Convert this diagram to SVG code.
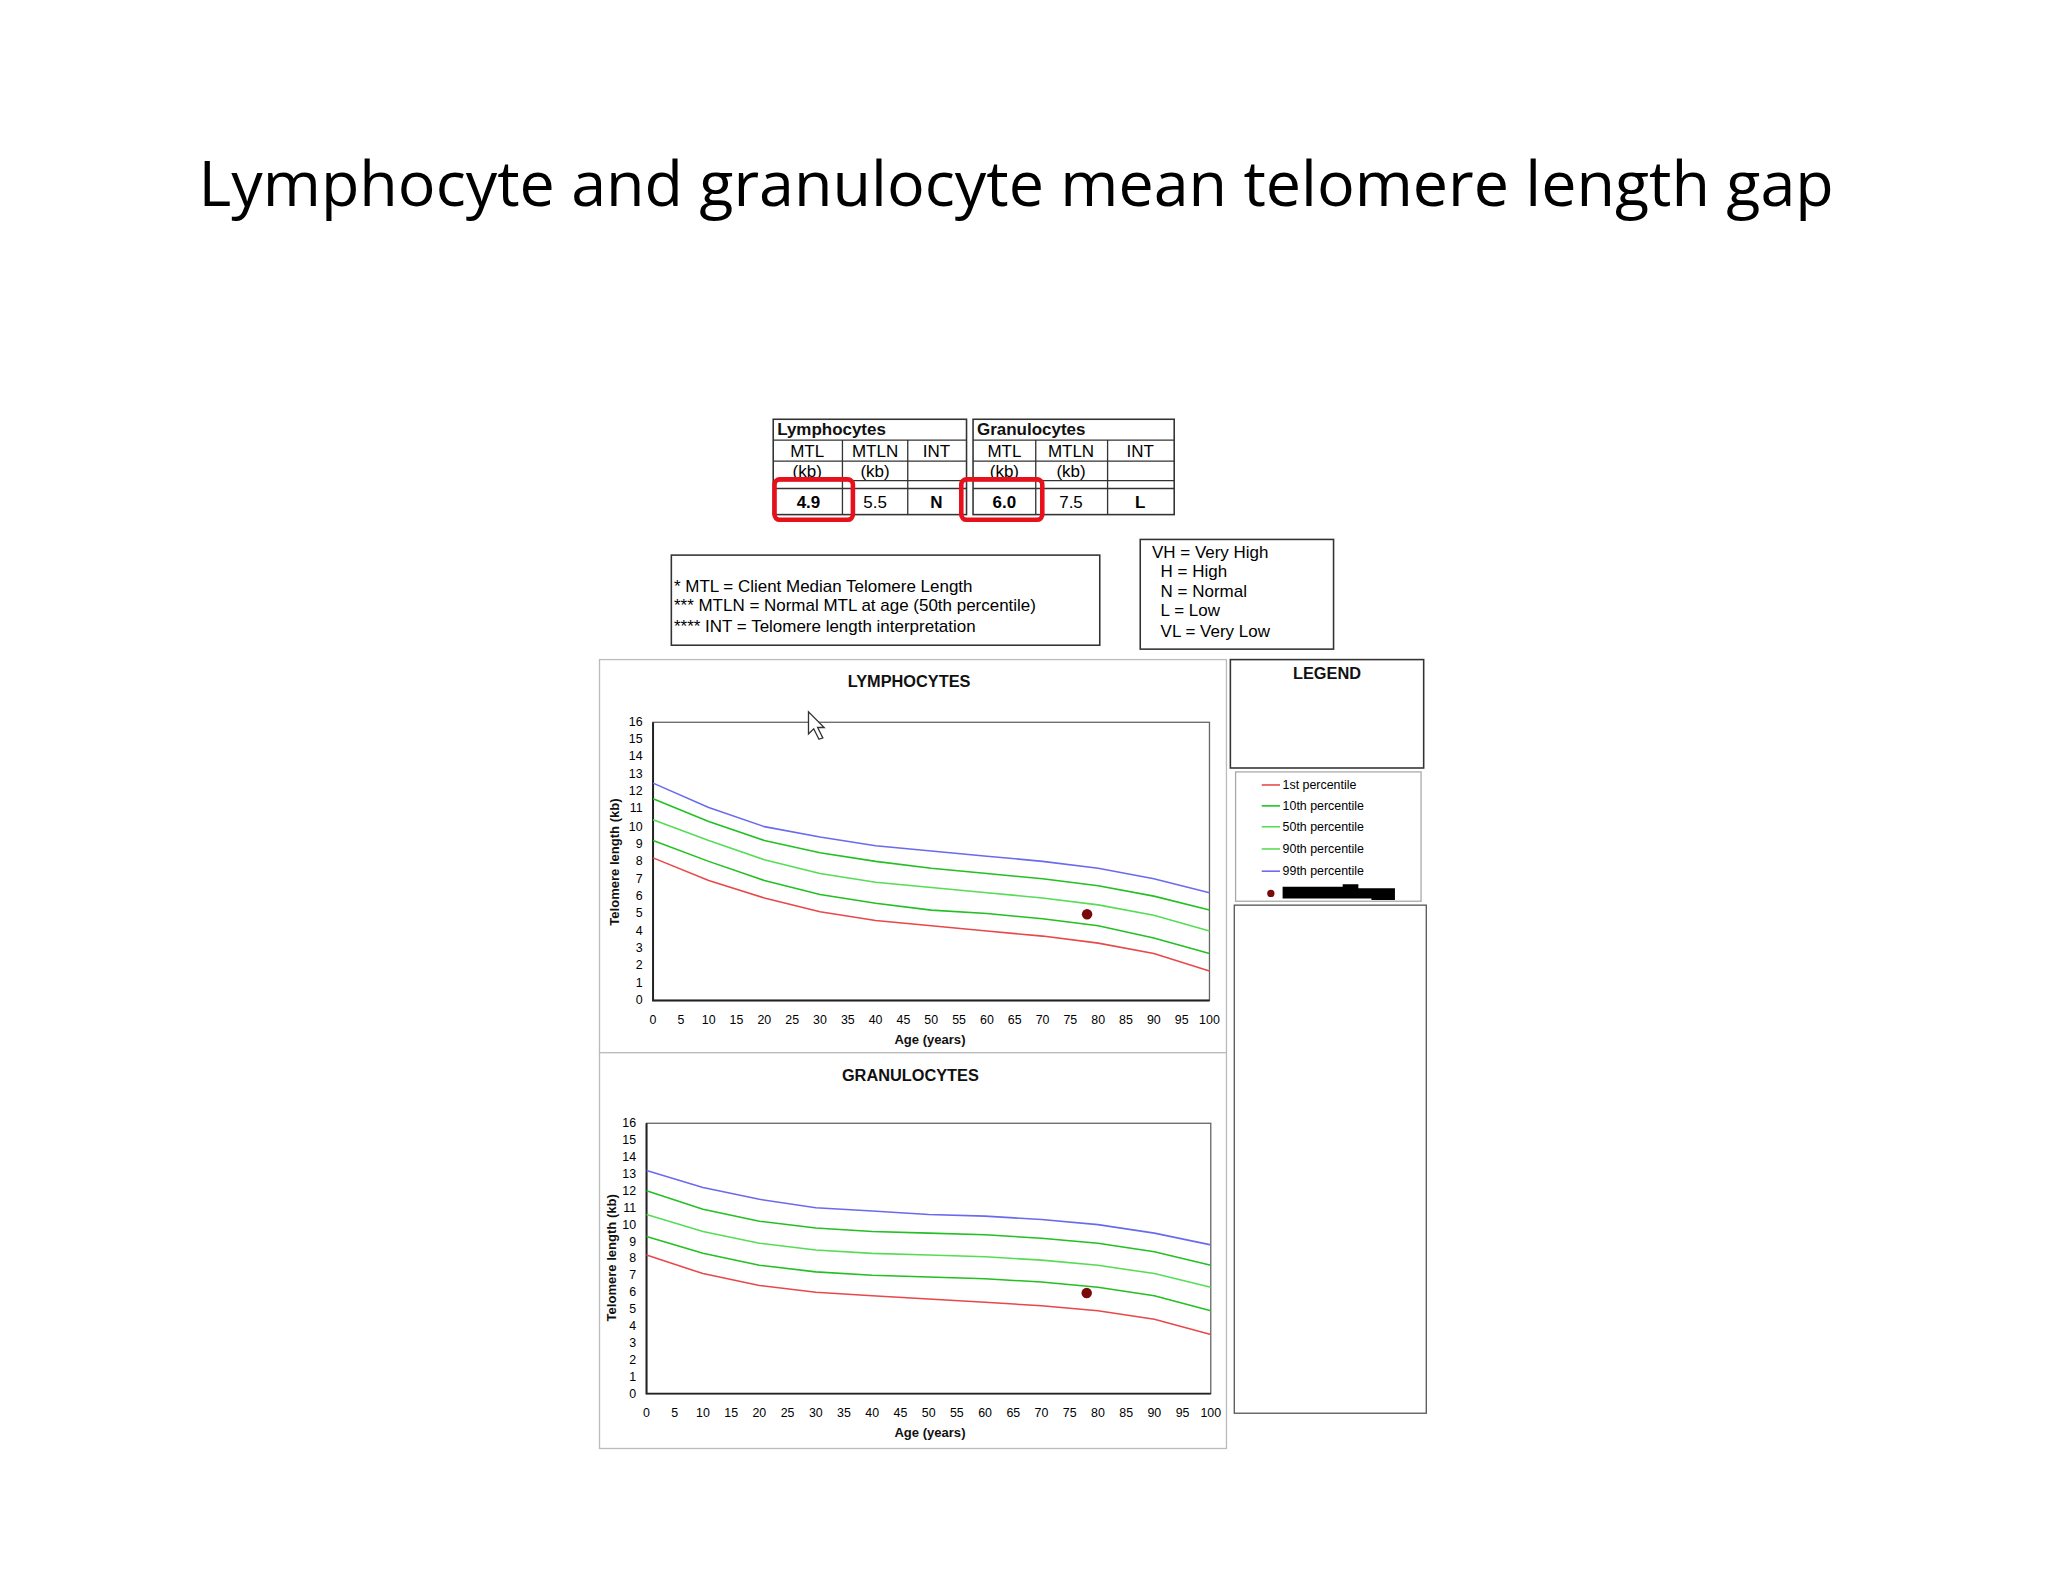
<svg xmlns="http://www.w3.org/2000/svg" width="2048" height="1582" viewBox="0 0 2048 1582">
<style>
.t{font-family:"Liberation Sans",Arial,sans-serif;fill:#000}
.tb{font-family:"Liberation Sans",Arial,sans-serif;font-weight:bold;fill:#111}
.box{fill:none;stroke:#333;stroke-width:1.2}
.pan{fill:#fff;stroke:#bbb;stroke-width:1}
.cell{font-family:"Liberation Sans",Arial,sans-serif;font-size:13px;text-anchor:middle}
.yl{font-family:"Liberation Sans",Arial,sans-serif;font-size:9.5px;text-anchor:end}
.xl{font-family:"Liberation Sans",Arial,sans-serif;font-size:9.5px;text-anchor:middle}
.c{fill:none;stroke-width:1.2}
.red{stroke:#e8484a}.grn{stroke:#22c022}.lg{stroke:#55dd55}.blu{stroke:#6a6aee}
.hl{fill:none;stroke:#e8101a;stroke-width:3.5}
</style>
<rect width="2048" height="1582" fill="#fff"/>
<g transform="scale(1.30612)">
<g id="title"><text x="778" y="158" class="t" font-family="'Noto Sans',sans-serif" style="font-family:'Open Sans','Noto Sans',sans-serif" font-size="47" text-anchor="middle" textLength="1252" lengthAdjust="spacingAndGlyphs">Lymphocyte and granulocyte mean telomere length gap</text></g>

<g id="table">
<rect x="592" y="321" width="148" height="73" class="box"/>
<rect x="745" y="321" width="154" height="73" class="box"/>
<path d="M592 337H740M592 353H740M592 368H740M592 374H740M645 337V394M695 337V394M745 337H899M745 353H899M745 368H899M745 374H899M793 337V394M848 337V394" stroke="#333" stroke-width="1"/>
<text x="595" y="333" class="tb" font-size="13">Lymphocytes</text>
<text x="748" y="333" class="tb" font-size="13">Granulocytes</text>
<text x="618" y="350" class="cell">MTL</text><text x="670" y="350" class="cell">MTLN</text><text x="717" y="350" class="cell">INT</text>
<text x="618" y="365" class="cell">(kb)</text><text x="670" y="365" class="cell">(kb)</text>
<text x="769" y="350" class="cell">MTL</text><text x="820" y="350" class="cell">MTLN</text><text x="873" y="350" class="cell">INT</text>
<text x="769" y="365" class="cell">(kb)</text><text x="820" y="365" class="cell">(kb)</text>
<text x="619" y="389" class="cell" font-weight="bold">4.9</text><text x="670" y="389" class="cell">5.5</text><text x="717" y="389" class="cell" font-weight="bold">N</text>
<text x="769" y="389" class="cell" font-weight="bold">6.0</text><text x="820" y="389" class="cell">7.5</text><text x="873" y="389" class="cell" font-weight="bold">L</text>
<rect x="593" y="367" width="60" height="31" rx="4" class="hl"/>
<rect x="736" y="367" width="62" height="31" rx="4" class="hl"/>
</g>

<g id="notes">
<rect x="514" y="425" width="328" height="69" class="box" stroke="#777"/>
<text class="t" font-size="13"><tspan x="516" y="453">* MTL = Client Median Telomere Length</tspan><tspan x="516" y="468">*** MTLN = Normal MTL at age (50th percentile)</tspan><tspan x="516" y="484">**** INT = Telomere length interpretation</tspan></text>
</g>
<g id="abbrev">
<rect x="873" y="413" width="148" height="84" class="box" stroke="#777"/>
<text class="t" font-size="13"><tspan x="882" y="427">VH = Very High</tspan><tspan x="885" y="442"> H = High</tspan><tspan x="885" y="457"> N = Normal</tspan><tspan x="885" y="472"> L = Low</tspan><tspan x="885" y="488"> VL = Very Low</tspan></text>
</g>

<g id="lymph-chart">
<rect x="459" y="505" width="480" height="301" class="pan"/>
<text x="696" y="526" class="tb" font-size="12.5" text-anchor="middle">LYMPHOCYTES</text>
<rect x="500" y="553" width="426" height="213" fill="#fff" stroke="#666" stroke-width="1"/>
<path d="M500 553V766H926" fill="none" stroke="#222" stroke-width="1.5"/>
<g class="yl"><text x="492" y="769">0</text><text x="492" y="756">1</text><text x="492" y="742">2</text><text x="492" y="729">3</text><text x="492" y="716">4</text><text x="492" y="702">5</text><text x="492" y="689">6</text><text x="492" y="676">7</text><text x="492" y="662">8</text><text x="492" y="649">9</text><text x="492" y="636">10</text><text x="492" y="622">11</text><text x="492" y="609">12</text><text x="492" y="596">13</text><text x="492" y="582">14</text><text x="492" y="569">15</text><text x="492" y="556">16</text></g>
<g class="xl"><text x="500" y="784">0</text><text x="521.3" y="784">5</text><text x="542.6" y="784">10</text><text x="563.9" y="784">15</text><text x="585.2" y="784">20</text><text x="606.5" y="784">25</text><text x="627.8" y="784">30</text><text x="649.1" y="784">35</text><text x="670.4" y="784">40</text><text x="691.7" y="784">45</text><text x="713" y="784">50</text><text x="734.3" y="784">55</text><text x="755.6" y="784">60</text><text x="776.9" y="784">65</text><text x="798.2" y="784">70</text><text x="819.5" y="784">75</text><text x="840.8" y="784">80</text><text x="862.1" y="784">85</text><text x="883.4" y="784">90</text><text x="904.7" y="784">95</text><text x="926" y="784">100</text></g>
<text x="712" y="799" class="tb" font-size="10" text-anchor="middle">Age (years)</text>
<text transform="translate(474,660) rotate(-90)" class="tb" font-size="10" text-anchor="middle">Telomere length (kb)</text>
<polyline class="c blu" points="500,599.6 542.6,618.2 585.2,632.9 627.8,640.9 670.4,647.5 713,651.5 755.6,655.5 798.2,659.5 840.8,664.8 883.4,672.8 926,683.5"/>
<polyline class="c grn" points="500,611.6 542.6,628.9 585.2,643.5 627.8,652.9 670.4,659.5 713,664.8 755.6,668.8 798.2,672.8 840.8,678.1 883.4,686.1 926,696.8"/>
<polyline class="c lg" points="500,627.6 542.6,643.5 585.2,658.2 627.8,668.8 670.4,675.5 713,679.5 755.6,683.5 798.2,687.5 840.8,692.8 883.4,700.8 926,712.8"/>
<polyline class="c grn" points="500,643.5 542.6,659.5 585.2,674.1 627.8,684.8 670.4,691.5 713,696.8 755.6,699.4 798.2,703.4 840.8,708.8 883.4,718.1 926,730.1"/>
<polyline class="c red" points="500,656.8 542.6,674.1 585.2,687.5 627.8,698.1 670.4,704.8 713,708.8 755.6,712.8 798.2,716.7 840.8,722.1 883.4,730.1 926,743.4"/>
<circle cx="832.3" cy="700" r="4" fill="#7a0a0a"/>
<path d="M619 545V562L623 558L627 566L630 565L626 557L631 557Z" fill="#fff" stroke="#333" stroke-width="1"/>
</g>

<g id="gran-chart">
<rect x="459" y="806" width="480" height="303" class="pan"/>
<text x="697" y="828" class="tb" font-size="12.5" text-anchor="middle">GRANULOCYTES</text>
<rect x="495" y="860" width="432" height="207" fill="#fff" stroke="#666" stroke-width="1"/>
<path d="M495 860V1067H927" fill="none" stroke="#222" stroke-width="1.5"/>
<g class="yl"><text x="487" y="1070">0</text><text x="487" y="1057">1</text><text x="487" y="1044">2</text><text x="487" y="1031">3</text><text x="487" y="1018">4</text><text x="487" y="1005">5</text><text x="487" y="992">6</text><text x="487" y="979">7</text><text x="487" y="966">8</text><text x="487" y="954">9</text><text x="487" y="941">10</text><text x="487" y="928">11</text><text x="487" y="915">12</text><text x="487" y="902">13</text><text x="487" y="889">14</text><text x="487" y="876">15</text><text x="487" y="863">16</text></g>
<g class="xl"><text x="495" y="1085">0</text><text x="516.6" y="1085">5</text><text x="538.2" y="1085">10</text><text x="559.8" y="1085">15</text><text x="581.4" y="1085">20</text><text x="603" y="1085">25</text><text x="624.6" y="1085">30</text><text x="646.2" y="1085">35</text><text x="667.8" y="1085">40</text><text x="689.4" y="1085">45</text><text x="711" y="1085">50</text><text x="732.6" y="1085">55</text><text x="754.2" y="1085">60</text><text x="775.8" y="1085">65</text><text x="797.4" y="1085">70</text><text x="819" y="1085">75</text><text x="840.6" y="1085">80</text><text x="862.2" y="1085">85</text><text x="883.8" y="1085">90</text><text x="905.4" y="1085">95</text><text x="927" y="1085">100</text></g>
<text x="712" y="1100" class="tb" font-size="10" text-anchor="middle">Age (years)</text>
<text transform="translate(472,963) rotate(-90)" class="tb" font-size="10" text-anchor="middle">Telomere length (kb)</text>
<polyline class="c blu" points="495,896.2 538.2,909.1 581.4,918.2 624.6,924.7 667.8,927.2 711,929.8 754.2,931.1 797.4,933.7 840.6,937.6 883.8,944.1 927,953.1"/>
<polyline class="c grn" points="495,911.7 538.2,925.9 581.4,935 624.6,940.2 667.8,942.8 711,944.1 754.2,945.4 797.4,948 840.6,951.8 883.8,958.3 927,968.7"/>
<polyline class="c lg" points="495,929.8 538.2,942.8 581.4,951.8 624.6,957 667.8,959.6 711,960.9 754.2,962.2 797.4,964.8 840.6,968.7 883.8,975.1 927,985.5"/>
<polyline class="c grn" points="495,946.7 538.2,959.6 581.4,968.7 624.6,973.8 667.8,976.4 711,977.7 754.2,979 797.4,981.6 840.6,985.5 883.8,992 927,1003.6"/>
<polyline class="c red" points="495,960.9 538.2,975.1 581.4,984.2 624.6,989.4 667.8,992 711,994.5 754.2,997.1 797.4,999.7 840.6,1003.6 883.8,1010.1 927,1021.7"/>
<circle cx="832" cy="990" r="4" fill="#7a0a0a"/>
</g>

<g id="legend">
<rect x="942" y="505" width="148" height="83" class="box"/>
<text x="1016" y="520" class="tb" font-size="12.5" text-anchor="middle">LEGEND</text>
<rect x="946" y="591" width="142" height="99" fill="none" stroke="#aaa" stroke-width="1"/>
<path d="M966 601H980" class="c red"/><path d="M966 617H980" class="c grn"/><path d="M966 633H980" class="c lg"/><path d="M966 650H980" class="c lg"/><path d="M966 667H980" class="c blu"/>
<g class="t" font-size="9.5"><text x="982" y="604">1st percentile</text><text x="982" y="620">10th percentile</text><text x="982" y="636">50th percentile</text><text x="982" y="653">90th percentile</text><text x="982" y="670">99th percentile</text></g>
<circle cx="973" cy="684" r="2.8" fill="#7a0a0a"/>
<path d="M982 679H1028V677H1040V680H1068V689H1050V688H982Z" fill="#000"/>
<rect x="945" y="693" width="147" height="389" fill="none" stroke="#555" stroke-width="1"/>
</g>
</g>
</svg>
